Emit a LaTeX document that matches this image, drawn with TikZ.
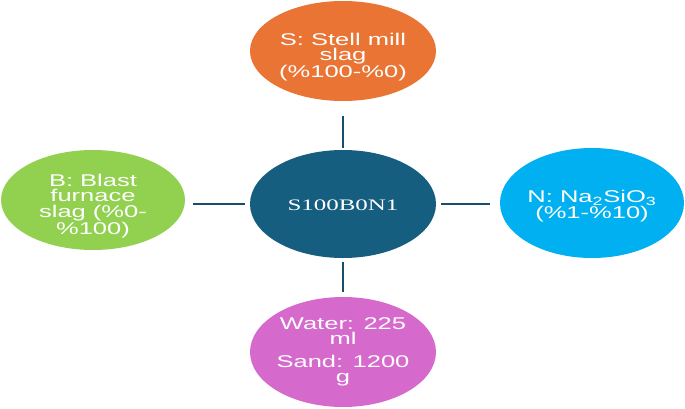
\documentclass[tikz,border=0pt]{standalone}
\usepackage{fontspec}
\setmainfont{Liberation Sans}
\newfontfamily\serifx{Liberation Serif}
\usetikzlibrary{shapes.geometric}
\definecolor{cS}{RGB}{233,116,52}
\definecolor{cB}{RGB}{146,208,80}
\definecolor{cC}{RGB}{21,94,128}
\definecolor{cN}{RGB}{0,176,240}
\definecolor{cW}{RGB}{214,106,204}
\definecolor{cL}{RGB}{22,78,108}
\tikzset{
  blob/.style={ellipse, inner sep=0pt, draw=none, minimum width=186pt},
  txt/.style={transform shape, xscale=1.5, inner sep=0pt, text=white, align=center,
    font=\fontsize{17}{15.5}\selectfont},
  link/.style={draw=cL, line width=2pt}
}
\begin{document}
\begin{tikzpicture}[x=1pt,y=-1pt]
\useasboundingbox (0,0) rectangle (685,409);
\node[blob, fill=cS, minimum height=100pt] (S) at (343,51) {};
\node[blob, fill=cC, minimum height=108pt] (C) at (343,204) {};
\node[blob, fill=cB, minimum height=100pt, minimum width=184pt] (B) at (93,200) {};
\node[blob, fill=cN, minimum height=110pt, minimum width=184pt] (N) at (592,203) {};
\node[blob, fill=cW, minimum height=110pt] (W) at (343,352) {};
\node[txt] (St) at (343,57) {S: Stell mill\\slag\\(\%100-\%0)};
\node[txt, xscale=1.04, font=\fontsize{16}{16}\serifx] (Ct) at (343,205) {S100B0N1};
\node[txt] (Bt) at (93,206) {B: Blast\\furnace\\slag (\%0-\\\%100)};
\node[txt] (Nt) at (592,206) {N: Na\textsubscript{2}SiO\textsubscript{3}\\(\%1-\%10)};
\node[txt, font=\fontsize{17}{14.5}\selectfont] (Wt) at (343,352) {Water: 225\\ml\\[9pt]Sand: 1200\\g};
\draw[link, shorten <=15pt, shorten >=2pt] (S) -- (C);
\draw[link, shorten <=4pt, shorten >=5pt] (C) -- (W);
\draw[link, shorten <=5pt, shorten >=8pt] (C.west) -- (C.west -| B.east);
\draw[link, shorten <=5pt, shorten >=10pt] (C.east) -- (C.east -| N.west);
\end{tikzpicture}
\end{document}
